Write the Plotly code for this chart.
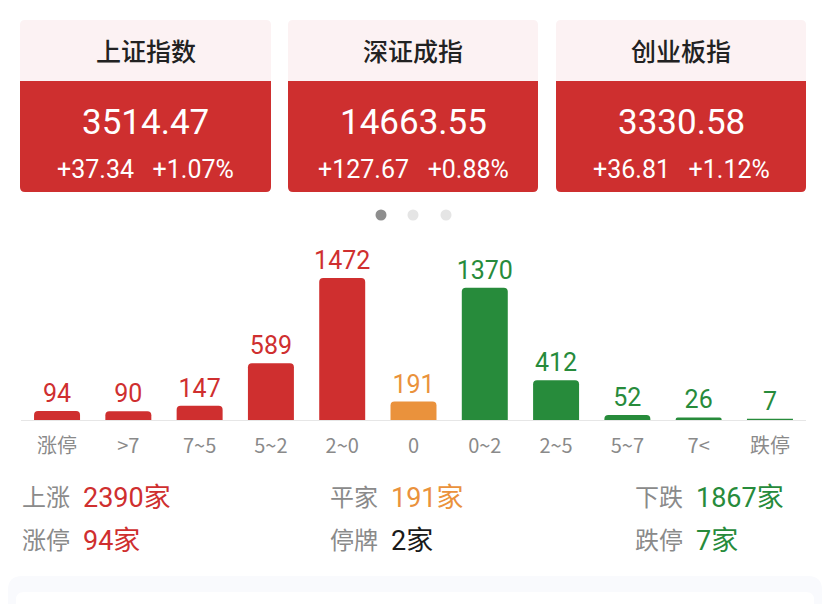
import plotly.graph_objects as go

W, H = 830, 604

# ---- data ----
index_names = ["上证指数", "深证成指", "创业板指"]
index_values = ["3514.47", "14663.55", "3330.58"]
index_changes = ["+37.34", "+127.67", "+36.81"]
index_pcts = ["+1.07%", "+0.88%", "+1.12%"]

categories = ["涨停", ">7", "7~5", "5~2", "2~0", "0", "0~2", "2~5", "5~7", "7<", "跌停"]
counts = [94, 90, 147, 589, 1472, 191, 1370, 412, 52, 26, 7]

RED = "#CF2F2F"
ORANGE = "#EA923C"
GREEN = "#278B3B"
bar_colors = [RED] * 5 + [ORANGE] + [GREEN] * 5

summary_rows = [
    [("上涨", "2390家", RED), ("平家", "191家", ORANGE), ("下跌", "1867家", GREEN)],
    [("涨停", "94家", RED), ("停牌", "2家", "#1a1a1a"), ("跌停", "7家", GREEN)],
]

FONT = "Noto Sans CJK SC"
NUMFONT = "Roboto, Noto Sans CJK SC"


def px(x):
    return x / W


def py(y):
    return 1 - y / H


def rrect(x0, y0, x1, y1, r_top, r_bot):
    p = f"M {px(x0 + r_top)},{py(y0)} L {px(x1 - r_top)},{py(y0)} "
    if r_top:
        p += f"Q {px(x1)},{py(y0)} {px(x1)},{py(y0 + r_top)} "
    p += f"L {px(x1)},{py(y1 - r_bot)} "
    if r_bot:
        p += f"Q {px(x1)},{py(y1)} {px(x1 - r_bot)},{py(y1)} "
    p += f"L {px(x0 + r_bot)},{py(y1)} "
    if r_bot:
        p += f"Q {px(x0)},{py(y1)} {px(x0)},{py(y1 - r_bot)} "
    p += f"L {px(x0)},{py(y0 + r_top)} "
    if r_top:
        p += f"Q {px(x0)},{py(y0)} {px(x0 + r_top)},{py(y0)} "
    p += "Z"
    return p


shapes = []
annotations = []

cards_x = [(20, 271), (288, 538), (556, 806)]
for i, (x0, x1) in enumerate(cards_x):
    shapes.append(dict(type="path", xref="paper", yref="paper",
                       path=rrect(x0, 20, x1, 81, 5, 0),
                       fillcolor="#FCF2F3", line=dict(width=0), layer="below"))
    shapes.append(dict(type="path", xref="paper", yref="paper",
                       path=rrect(x0, 81, x1, 192, 0, 5),
                       fillcolor="#CE2F2F", line=dict(width=0), layer="below"))
    cx = (x0 + x1) / 2
    annotations.append(dict(x=px(cx), y=py(50), xref="paper", yref="paper",
                            text=index_names[i], showarrow=False,
                            font=dict(family=FONT, size=25, color="#222222", weight=500),
                            xanchor="center", yanchor="middle"))
    annotations.append(dict(x=px(cx), y=py(123), xref="paper", yref="paper",
                            text=index_values[i], showarrow=False,
                            font=dict(family=NUMFONT, size=35, color="white"),
                            xanchor="center", yanchor="middle"))
    annotations.append(dict(x=px(cx), y=py(169), xref="paper", yref="paper",
                            text=index_changes[i] + "&nbsp;&nbsp;&nbsp;" + index_pcts[i], showarrow=False,
                            font=dict(family=NUMFONT, size=25, color="white"),
                            xanchor="center", yanchor="middle"))

# dots
for dx, col in zip([381, 413, 446], ["#8E8E8E", "#E5E5E5", "#E5E5E5"]):
    shapes.append(dict(type="circle", xref="paper", yref="paper",
                       x0=px(dx - 5.5), x1=px(dx + 5.5), y0=py(215 + 5.5), y1=py(215 - 5.5),
                       fillcolor=col, line=dict(width=0)))

# summary text
cols_x = [20, 328, 633]
rows_y = [497, 540]
for r, row in enumerate(summary_rows):
    for c, (lab, val, col) in enumerate(row):
        annotations.append(dict(
            x=px(cols_x[c]), y=py(rows_y[r] - 2), xref="paper", yref="paper",
            text=lab, showarrow=False, xanchor="left", yanchor="middle",
            font=dict(family=FONT, size=24, color="#8a8a8a")))
        annotations.append(dict(
            x=px(cols_x[c] + 61), y=py(rows_y[r] + 1), xref="paper", yref="paper",
            text=val, showarrow=False, xanchor="left", yanchor="middle",
            font=dict(family=NUMFONT, size=27, color=col)))

# bottom card
shapes.append(dict(type="path", xref="paper", yref="paper",
                   path=rrect(8, 576, 822, 640, 14, 0),
                   fillcolor="#F9FAFD", line=dict(width=0), layer="below"))
shapes.append(dict(type="path", xref="paper", yref="paper",
                   path=rrect(16, 592, 814, 640, 8, 0),
                   fillcolor="#FFFFFF", line=dict(width=0), layer="below"))

# bar chart
ymax = 1600
scale = 142 / 1472
top_px = 420 - ymax * scale
left, right = 21.4, 805.6

fig = go.Figure()
fig.add_trace(go.Bar(
    x=categories, y=counts,
    marker=dict(color=bar_colors, cornerradius=4, line=dict(width=0)),
    width=0.645,
    text=[str(v) for v in counts], textposition="outside",
    constraintext="none",
    textfont=dict(family=NUMFONT, size=25, color=bar_colors),
    cliponaxis=False, hoverinfo="skip",
))

fig.update_layout(
    width=W, height=H, margin=dict(l=0, r=0, t=0, b=0),
    paper_bgcolor="white", plot_bgcolor="rgba(0,0,0,0)",
    showlegend=False, shapes=shapes, annotations=annotations,
    uniformtext=dict(mode=False),
    xaxis=dict(domain=[px(left), px(right)], range=[-0.5, 10.5], type="category",
               showline=True, linecolor="#E6E6E6", linewidth=1,
               showgrid=False, zeroline=False, ticks="",
               ticklabelstandoff=8,
               tickfont=dict(family=FONT, size=20, color="#8A8A8A"),
               fixedrange=True),
    yaxis=dict(domain=[py(420), py(top_px)], range=[0, ymax],
               visible=False, showgrid=False, zeroline=False, fixedrange=True),
)

fig.write_html("out.html")
